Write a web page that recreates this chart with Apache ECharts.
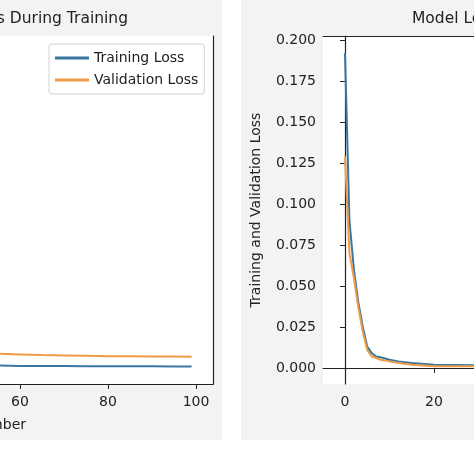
<!DOCTYPE html>
<html><head><meta charset="utf-8">
<script src="https://cdn.jsdelivr.net/npm/echarts@6/dist/echarts.min.js"></script>
<style>html,body{margin:0;padding:0;background:#fff}#c{width:474px;height:474px}</style>
</head><body><div id="c"></div>
<script>
const leftEpochs = [50,55,60,65,70,75,80,85,90,95,99];
const leftTrain = [0.053,0.053,0.052,0.052,0.052,0.051,0.051,0.051,0.051,0.050,0.050];
const leftVal =   [0.088,0.087,0.085,0.083,0.082,0.081,0.080,0.080,0.079,0.079,0.078];
const rightEpochs = [0,1,2,3,4,5,6,7,8,10,12,15,20,25,30,35];
const rightTrain = [0.192,0.090,0.060,0.040,0.025,0.013,0.009,0.007,0.0065,0.005,0.004,0.003,0.002,0.0018,0.0015,0.0014];
const rightVal =   [0.129,0.070,0.055,0.037,0.022,0.011,0.007,0.006,0.005,0.004,0.003,0.002,0.001,0.001,0.001,0.001];
const xTicks = [0,20,40,60,80,100];
const yTicks = [0,0.025,0.05,0.075,0.1,0.125,0.15,0.175,0.2];
const F = 'DejaVu Sans';
const cTrain = '#3b76a0', cVal = '#ef9a45';
const zip = (a,b)=>a.map((x,i)=>[x,b[i]]);
const line = {show:true,lineStyle:{color:'#222',width:1.2}};
const plain = (gi,pos,min,max) => ({gridIndex:gi,type:'value',position:pos,min,max,axisLine:line,axisTick:{show:false},axisLabel:{show:false},splitLine:{show:false}});
const chart = echarts.init(document.getElementById('c'));
chart.setOption({
  animation:false,
  textStyle:{fontFamily:F},
  graphic:[
    {type:'rect',shape:{x:0,y:0,width:222,height:440},style:{fill:'#f3f3f3'},z:-10},
    {type:'rect',shape:{x:241,y:0,width:233,height:440},style:{fill:'#f3f3f3'},z:-10},
    {type:'rect',shape:{x:0,y:36,width:213,height:348},style:{fill:'#fff'},z:-9},
    {type:'rect',shape:{x:323,y:36,width:151,height:348},style:{fill:'#fff'},z:-9},
    {type:'text',style:{text:'Epoch Number',x:26,y:418,align:'right',font:'14px "DejaVu Sans"',fill:'#222'}}
  ],
  title:[
    {text:'Model Loss During Training',right:341,top:6,textStyle:{fontFamily:F,fontSize:15.5,fontWeight:'normal',color:'#222'}},
    {text:'Model Loss During Training',left:407,top:6,textStyle:{fontFamily:F,fontSize:15.5,fontWeight:'normal',color:'#222'}}
  ],
  legend:{left:49,top:44,orient:'vertical',data:['Training Loss','Validation Loss'],backgroundColor:'#fff',borderColor:'#d0d0d0',borderWidth:1,borderRadius:3,padding:[7,6,7,6],itemGap:8,itemWidth:34,itemHeight:3,icon:'rect',textStyle:{fontFamily:F,fontSize:14,color:'#222'}},
  grid:[
    {left:0,right:261,top:36,bottom:90},
    {left:323,right:0,top:36,bottom:90}
  ],
  xAxis:[
    {gridIndex:0,type:'value',min:55.45,max:103.86,position:'bottom',axisLine:line,axisTick:{show:true,length:5,lineStyle:{color:'#222'},customValues:xTicks},axisLabel:{fontSize:14,color:'#222',margin:11,customValues:xTicks},splitLine:{show:false}},
    plain(0,'top',0,1),
    {gridIndex:1,type:'value',min:-4.94,max:28.99,position:'bottom',axisLine:line,axisTick:{show:true,length:5,lineStyle:{color:'#222'},customValues:xTicks},axisLabel:{fontSize:14,color:'#222',margin:11,customValues:xTicks},splitLine:{show:false}},
    plain(1,'top',0,1)
  ],
  yAxis:[
    {gridIndex:0,type:'value',min:0,max:1,position:'left',show:false},
    plain(0,'right',0,1),
    {gridIndex:1,type:'value',min:-0.0098,max:0.2024,position:'left',axisLine:line,axisTick:{show:true,length:5,lineStyle:{color:'#222'},customValues:yTicks},axisLabel:{fontSize:14,color:'#222',margin:7,customValues:yTicks,formatter:v=>v.toFixed(3)},splitLine:{show:false},name:'Training and Validation Loss',nameLocation:'middle',nameGap:60,nameRotate:90,nameTextStyle:{fontSize:14,color:'#222'}}
  ],
  series:[
    {name:'Training Loss',type:'line',xAxisIndex:0,yAxisIndex:0,data:zip(leftEpochs,leftTrain),symbol:'none',clip:true,lineStyle:{color:cTrain,width:2},itemStyle:{color:cTrain}},
    {name:'Validation Loss',type:'line',xAxisIndex:0,yAxisIndex:0,data:zip(leftEpochs,leftVal),symbol:'none',clip:true,lineStyle:{color:cVal,width:2},itemStyle:{color:cVal}},
    {name:'Training Loss',type:'line',xAxisIndex:2,yAxisIndex:2,data:zip(rightEpochs,rightTrain),symbol:'none',clip:true,lineStyle:{color:cTrain,width:2},itemStyle:{color:cTrain}},
    {name:'Validation Loss',type:'line',xAxisIndex:2,yAxisIndex:2,data:zip(rightEpochs,rightVal),symbol:'none',clip:true,lineStyle:{color:cVal,width:2},itemStyle:{color:cVal}}
  ]
});
</script></body></html>
